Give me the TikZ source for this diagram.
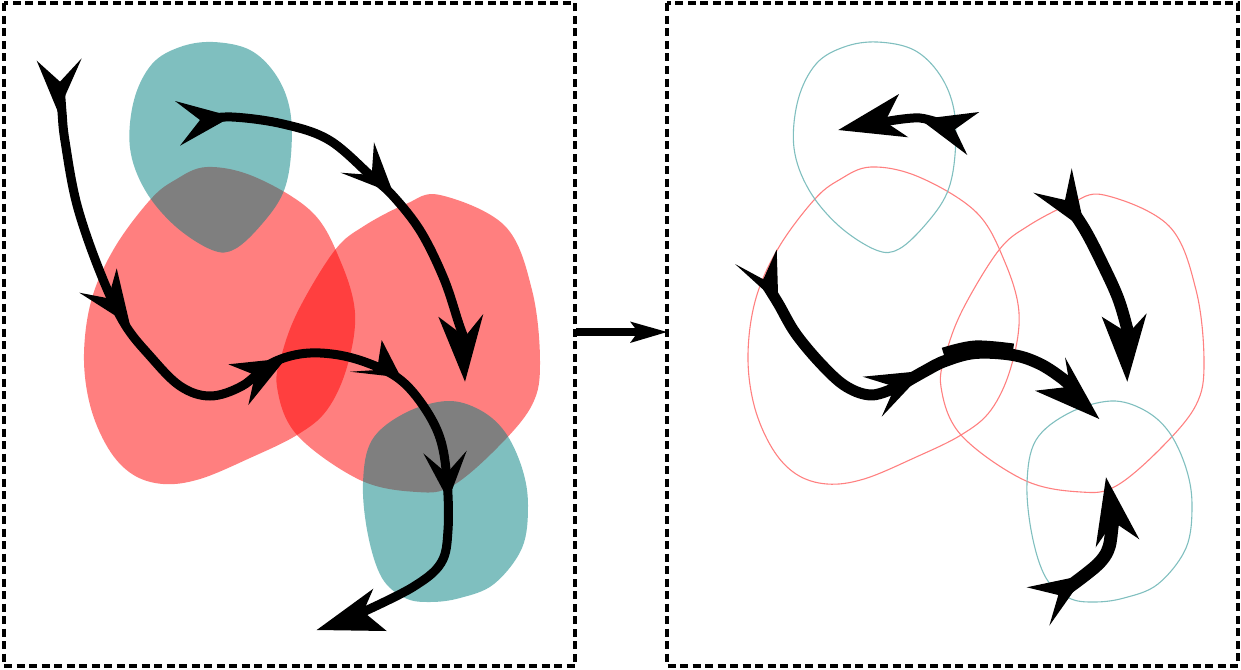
\documentclass[tikz,border=0pt]{standalone}
\usetikzlibrary{calc}
\newcommand{\tealA}{plot[smooth cycle, tension=0.6] coordinates {(213,42) (250,50) (276,75) (290,110) (291,155) (283,193) (262,224) (235,249) (212,250) (175,226) (145,190) (130,148) (134,100) (152,64) (180,47)}}
\newcommand{\tealB}{plot[smooth cycle, tension=0.6] coordinates {(447,401) (480,410) (505,432) (522,468) (528,505) (522,548) (494,584) (460,598) (430,602) (405,598) (382,578) (368,535) (363,483) (372,440) (405,413)}}
\newcommand{\redA}{plot[smooth cycle, tension=0.6] coordinates {(207,167) (255,177) (312,212) (340,260) (355,313) (347,367) (327,410) (297,435) (250,458) (200,479) (163,484) (132,474) (108,448) (90,405) (84,354) (92,298) (115,247) (150,200) (175,180)}}
\newcommand{\redB}{plot[smooth cycle, tension=0.6] coordinates {(440,195) (505,226) (532,290) (540,362) (532,405) (497,448) (452,486) (417,492) (360,480) (297,435) (277,387) (283,350) (300,307) (335,250) (364,226) (406,204)}}
\newcommand{\myhead}[4]{\fill[black] #1 -- #2 -- #3 -- #4 -- cycle;}
\tikzset{
  panelbox/.style={draw=black, line width=4pt, dash pattern=on 8pt off 4.5pt},
  tealfill/.style={fill=teal, fill opacity=0.5},
  redfill/.style={fill=red, fill opacity=0.5},
  tealline/.style={draw=teal!50, line width=1.1pt},
  redline/.style={draw=red!50, line width=1.1pt},
  flow/.style={draw=black, line width=9pt, line join=round},
}
\begin{document}
\begin{tikzpicture}[x=1pt,y=-1pt]
\useasboundingbox (0,0) rectangle (1241,669);
% ---------- left panel ----------
\fill[redfill] \redA;
\fill[redfill] \redB;
\fill[tealfill] \tealA;
\fill[tealfill] \tealB;
% path A
\draw[flow] plot[smooth, tension=0.6] coordinates {(60,84) (62,112) (65,141) (77,205) (100,272) (124,323) (150,356) (180,386) (210,396) (242,386) (270,364) (300,354) (332,354) (365,362) (398,378) (422,404) (440,438) (447,480) (448,530) (441,563) (413,587) (363,612)};
\myhead{(58,112)}{(36.7,60.7)}{(60,81.7)}{(81.7,58.3)}
\myhead{(130,325)}{(116.7,268.3)}{(108.3,298.3)}{(79.3,292.7)}
\myhead{(286,358.3)}{(228.3,364.3)}{(255,375)}{(248.3,405)}
\myhead{(401,377.5)}{(381.7,340)}{(377,370)}{(350,371.7)}
\myhead{(448.3,500)}{(423.3,453.3)}{(446.7,473.3)}{(466.7,450.7)}
\myhead{(316.7,630)}{(373.3,588.7)}{(363.3,611.7)}{(386.7,631)}
% path B
\draw[flow] plot[smooth, tension=0.6] coordinates {(200,120) (232,117) (283,124) (329,140) (371,176) (394,197) (421,232) (444,279) (459,324) (465,340)};
\myhead{(232,116.5)}{(175,101)}{(200,120)}{(180,145.7)}
\myhead{(393.3,193.3)}{(374,142.3)}{(371.7,175)}{(340.7,172.7)}
\myhead{(465,381.7)}{(438.3,316.7)}{(465,336.7)}{(483.3,314)}
% ---------- connector ----------
\draw[black, line width=8pt] (576,332) -- (640,332);
\myhead{(667,332)}{(630,321.5)}{(638,332)}{(630,343)}
% ---------- right panel ----------
\begin{scope}[shift={(664,0)}]
\draw[redline] \redA;
\draw[redline] \redB;
\draw[tealline] \tealA;
\draw[tealline] \tealB;
\end{scope}
% R1
\draw[flow, line width=9pt] plot[smooth] coordinates {(955,128) (920,118) (885,121.7)};
\myhead{(920,119.3)}{(979.3,112)}{(955,129.3)}{(967.3,155)}
\myhead{(838.3,130)}{(899,94)}{(885,121.7)}{(908.3,137.3)}
% R2
\draw[flow, line width=12pt] plot[smooth, tension=0.6] coordinates {(1065,200) (1085,230) (1103,265) (1118,298) (1127,328) (1128.3,336)};
\myhead{(1085,230)}{(1033.3,192.7)}{(1065,200)}{(1071.7,168.3)}
\myhead{(1127.3,381.7)}{(1101.7,316.7)}{(1128.3,333.3)}{(1146.7,313.3)}
% R3
\draw[flow, line width=11pt] plot[smooth, tension=0.6] coordinates {(763,279) (778,303) (796,334) (823,366) (847,387) (872,395) (897,387)};
\draw[flow, line width=12pt] plot[smooth, tension=0.6] coordinates {(897,387) (925,371) (945,361) (975,353) (1013,355) (1040,364) (1063,379) (1072,388)};
\draw[black, line width=15pt] plot[smooth, tension=0.6] coordinates {(944,355) (975,348) (1013,351)};
\myhead{(778.3,303.3)}{(735,264)}{(763.3,279.3)}{(776.7,249.3)}
\myhead{(925,370.7)}{(862.7,376.7)}{(895,386.7)}{(881.7,416.7)}
\myhead{(1099.3,419)}{(1065,357.3)}{(1070,386.7)}{(1035,390.7)}
% R4
\draw[flow, line width=13pt] plot[smooth, tension=0.6] coordinates {(1058,595) (1085,575) (1101,561) (1109,547) (1112,527) (1113,520)};
\myhead{(1085,575)}{(1026.7,587.3)}{(1058.3,595)}{(1049.3,625.7)}
\myhead{(1106,477.3)}{(1095.7,547.3)}{(1113.3,521.7)}{(1139.3,539.3)}
% ---------- boxes ----------
\draw[panelbox] (3.5,3.5) rectangle (575,665.5);
\draw[panelbox] (667,3.5) rectangle (1238,665.5);
\end{tikzpicture}
\end{document}
